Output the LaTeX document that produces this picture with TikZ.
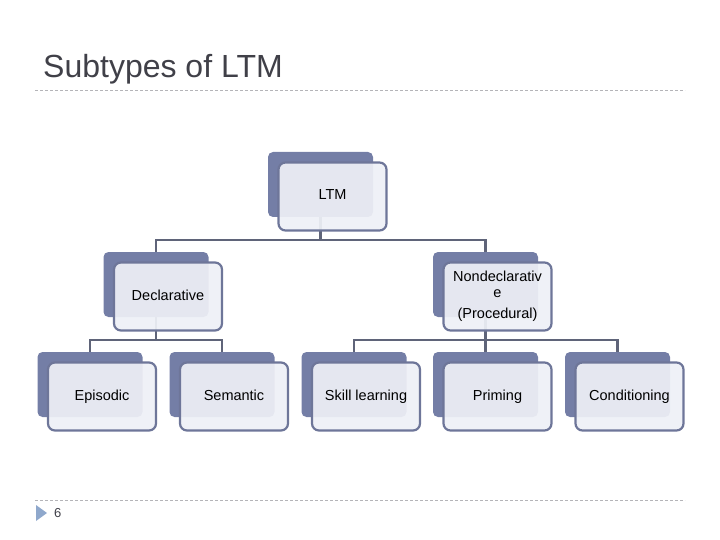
\documentclass[tikz,border=0pt]{standalone}
\usepackage{fontspec}
\setmainfont{Liberation Sans}
\usetikzlibrary{backgrounds}
\definecolor{backc}{HTML}{747EA6}
\definecolor{frontc}{HTML}{EEF0F6}
\definecolor{borderc}{HTML}{6E7699}
\definecolor{connc}{HTML}{5F6479}
\definecolor{titlec}{HTML}{404048}
\definecolor{dashc}{HTML}{B4B4B8}
\definecolor{tric}{HTML}{8FA8CC}
\tikzset{
  backbox/.style={draw=none, fill=backc, rounded corners=5pt, minimum width=105pt, minimum height=65pt, inner sep=0pt},
  frontbox/.style={draw=borderc, line width=2.2pt, fill=frontc, fill opacity=0.93, text opacity=1, rounded corners=7pt, minimum width=108pt, minimum height=68pt, inner sep=0pt, align=center, font=\fontsize{14.5}{16}\selectfont},
  conn/.style={draw=connc, line width=2.6pt},
  sep/.style={draw=dashc, line width=0.8pt, dash pattern=on 3pt off 2pt}
}
\begin{document}
\begin{tikzpicture}[x=1pt,y=-1pt]
\useasboundingbox (0,0) rectangle (720,540);
% title
\node[anchor=base west, inner sep=0pt, text=titlec, font=\fontsize{32}{36}\selectfont] (title) at (43,78) {Subtypes of LTM};
\draw[sep] (35,90) coordinate (s1) -- (685,90) coordinate (s2);
\draw[sep] (35,500) coordinate (s3) -- (685,500) coordinate (s4);
\fill[tric] (36,505) -- (47,513) -- (36,521) -- cycle;
\node[anchor=west, inner sep=0pt, text=titlec, font=\fontsize{13}{15}\selectfont] (pg) at (54,513) {6};
% boxes: back center x, top y
\foreach \n/\cx/\ty/\t in {ltm/320.5/152/LTM, decl/156/252/Declarative, nond/485.5/252/{Nondeclarativ\\e\\[5pt](Procedural)}, epi/90/352/Episodic, sem/222/352/Semantic, skill/354/352/Skill learning, prim/485.5/352/Priming, cond/617.5/352/Conditioning}{
  \node[backbox] (\n b) at (\cx,\ty+32.5) {};
  \node[frontbox] (\n) at (\cx+12,\ty+44.5) {\t\vphantom{Ag}};
}
\begin{pgfonlayer}{background}
\draw[conn] (ltmb.center) -- (ltmb.center |- 0,240) -| (declb.north);
\draw[conn] (ltmb.center) -- (ltmb.center |- 0,240) -| (nondb.north);
\draw[conn] (declb.center) -- (declb.center |- 0,340) -| (epib.north);
\draw[conn] (declb.center) -- (declb.center |- 0,340) -| (semb.north);
\draw[conn] (nondb.center) -- (nondb.center |- 0,340) -| (skillb.north);
\draw[conn] (nondb.center) -- (nondb.center |- 0,340) -| (primb.north);
\draw[conn] (nondb.center) -- (nondb.center |- 0,340) -| (condb.north);
\end{pgfonlayer}
\end{tikzpicture}
\end{document}
